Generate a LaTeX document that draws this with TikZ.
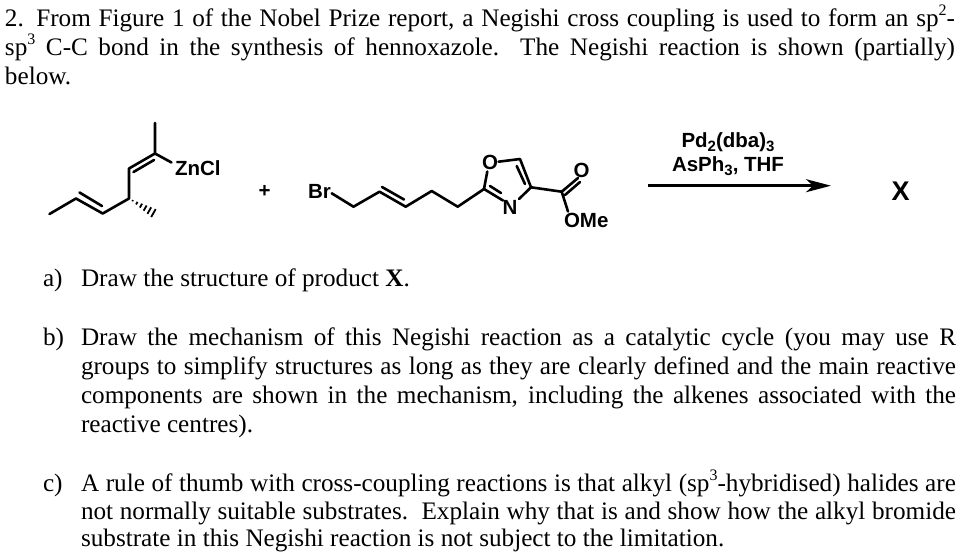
\documentclass[tikz,border=0pt]{standalone}
\usepackage{fontspec}
\setmainfont{Liberation Serif}
\newfontfamily\chemfont{Liberation Sans}[Scale=1]
\usetikzlibrary{arrows.meta,calc}
\newcommand{\tl}[3]{\node[txt] (#1) at (#2) {#3};}
\newcommand{\jl}[4]{\node[txt] (#1) at (#2) {\makebox[#3pt][s]{#4}};}
\newcommand{\sps}[1]{\raisebox{0.42em}{\fontsize{16}{16}\selectfont #1}}
\newcommand{\sbs}[1]{\raisebox{-0.22em}{\fontsize{15}{15}\selectfont #1}}
\tikzset{
 x=1pt,y=-1pt,
 txt/.style={anchor=base west,inner sep=0pt,outer sep=0pt,font=\fontsize{25.2}{28}\selectfont},
 chem/.style={inner sep=0pt,outer sep=0pt,font=\chemfont\bfseries\fontsize{20.5}{22}\selectfont,anchor=base},
 bond/.style={line width=2.6pt,line cap=round,line join=round,black},
}
\begin{document}
\begin{tikzpicture}
\useasboundingbox (0,0) rectangle (961,552);
% problem text
\jl{t1}{5,26}{950}{2. From Figure 1 of the Nobel Prize report, a Negishi cross coupling is used to form an sp\sps{2}-}
\jl{t2}{5,55}{950}{sp\sps{3} C-C bond in the synthesis of hennoxazole.\ \ The Negishi reaction is shown (partially)}
\tl{t3}{5,84}{below.}
\tl{ma}{43,286}{a)}
\tl{ta}{81,286}{Draw the structure of product \textbf{X}.}
\tl{mb}{43,345}{b)}
\jl{b1}{81,345}{875}{Draw the mechanism of this Negishi reaction as a catalytic cycle (you may use R}
\jl{b2}{81,374}{875}{groups to simplify structures as long as they are clearly defined and the main reactive}
\jl{b3}{81,403}{875}{components are shown in the mechanism, including the alkenes associated with the}
\tl{b4}{81,432}{reactive centres).}
\tl{mc}{43,491}{c)}
\jl{c1}{81,491}{875}{A rule of thumb with cross-coupling reactions is that alkyl (sp\sps{3}-hybridised) halides are}
\jl{c2}{81,519.5}{875}{not normally suitable substrates.\ \ Explain why that is and show how the alkyl bromide}
\tl{c3}{81,546.4}{substrate in this Negishi reaction is not subject to the limitation.}
% left molecule
\coordinate (a1) at (49.5,214);
\coordinate (a2) at (76,198.5);
\coordinate (a3) at (102.7,213.5);
\coordinate (a4) at (129,198.5);
\coordinate (a5) at (155,214);
\coordinate (a6) at (129,168.5);
\coordinate (a7) at (155,153.5);
\coordinate (a8) at (155,123);
\coordinate (a9) at (171.5,162.5);
\coordinate (i1) at (79.5,192.5);
\coordinate (i2) at (102,206);
\coordinate (i3) at (133.5,172);
\coordinate (i4) at (154,160);
\node[chem,anchor=base west] (zn) at (175,175.5) {ZnCl};
\draw[bond] (a1)--(a2)--(a3)--(a4)--(a6)--(a7)--(a8);
\draw[bond] (a7)--(a9);
\draw[bond] (i1)--(i2);
\draw[bond] (i3)--(i4);
\foreach \f in {0.14,0.30,0.46,0.62,0.78,0.94}{
  \draw[line width=1.8pt,black] ($(a4)!\f!(a5)+(\f*2.4,-\f*4.2)$)--($(a4)!\f!(a5)+(-\f*2.4,\f*4.2)$);
}
\node[chem] (plus) at (264.7,197) {+};
% right molecule
\node[chem,anchor=base west] (br) at (308,198) {Br};
\coordinate (b1c) at (331.7,193.3);
\coordinate (b2c) at (353.5,206.7);
\coordinate (b3c) at (379.5,191.7);
\coordinate (b4c) at (405.7,206.7);
\coordinate (b5c) at (431.7,191);
\coordinate (b6c) at (457.7,206.7);
\coordinate (c2c) at (484,189);
\node[chem] (oo) at (490,169.7) {O};
\node[chem] (nn) at (510,214) {N};
\coordinate (c5c) at (520,159);
\coordinate (c4c) at (531,187.3);
\coordinate (ec) at (561.7,191.7);
\node[chem] (ocarb) at (581.7,177.5) {O};
\node[chem,anchor=base west] (om) at (564,227.7) {OMe};
\coordinate (ot) at (568,211.5);
\coordinate (j1) at (382,187);
\coordinate (j2) at (404,199.5);
\coordinate (k1) at (516.7,166);
\coordinate (k2) at (525,184);
\coordinate (m1) at (490,186);
\coordinate (m2) at (501,193);
\coordinate (o1) at (487.3,171.5);
\coordinate (o2) at (498.5,161.7);
\coordinate (n2) at (503,200.5);
\coordinate (n3) at (519,199);
\coordinate (q2) at (578,178);
\coordinate (q3) at (565,195);
\coordinate (q4) at (580,182);
\draw[bond] (b1c)--(b2c)--(b3c)--(b4c)--(b5c)--(b6c)--(c2c);
\draw[bond] (j1)--(j2);
\draw[bond] (c2c)--(o1);
\draw[bond] (o2)--(c5c)--(c4c)--(n3);
\draw[bond] (k1)--(k2);
\draw[bond] (c2c)--(n2);
\draw[bond] (m1)--(m2);
\draw[bond] (c4c)--(ec)--(ot);
\draw[bond] (ec)--(q2);
\draw[bond] (q3)--(q4);
% arrow
\coordinate (ar1) at (648,185.7);
\coordinate (ar2) at (831,185.7);
\draw[line width=2.6pt,-{Stealth[length=25pt,width=13pt,inset=7pt]}] (ar1)--(ar2);
\node[chem] (r1) at (728,147) {Pd\sbs{2}(dba)\sbs{3}};
\node[chem] (r2) at (728,171) {AsPh\sbs{3}, THF};
\node[chem,font=\chemfont\bfseries\fontsize{27}{27}\selectfont] (xx) at (900.7,200.5) {X};
\end{tikzpicture}
\end{document}
